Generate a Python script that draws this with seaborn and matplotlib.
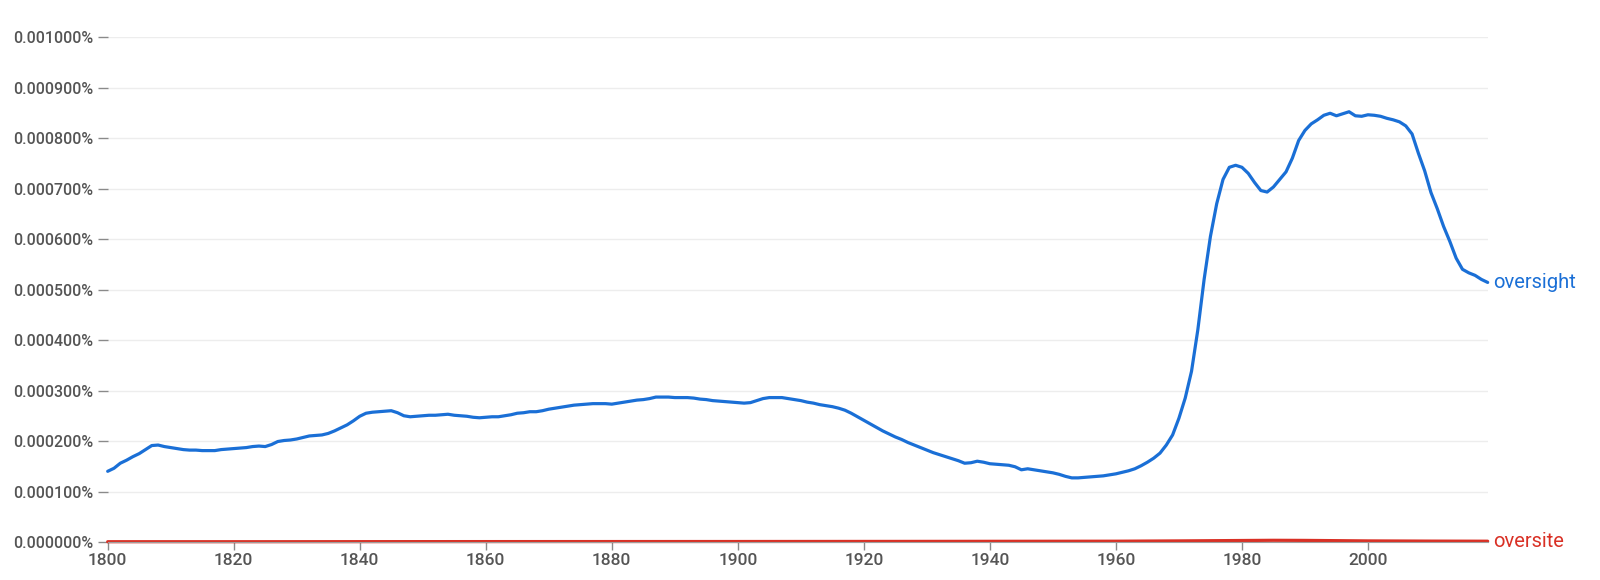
import numpy as np
import pandas as pd
import seaborn as sns
import matplotlib
matplotlib.use("Agg")
import matplotlib.pyplot as plt
from matplotlib.ticker import FuncFormatter, MultipleLocator

# Ngram frequencies (units of 0.000001 %)
oversight_years = list(range(1800, 2020))
oversight_vals = [
    140, 146, 156, 162, 169, 175, 183, 191, 192, 189,   # 1800s
    187, 185, 183, 182, 182, 181, 181, 181, 183, 184,   # 1810s
    185, 186, 187, 189, 190, 189, 193, 199, 201, 202,   # 1820s
    204, 207, 210, 211, 212, 215, 220, 226, 232, 240,   # 1830s
    249, 255, 257, 258, 259, 260, 256, 250, 248, 249,   # 1840s
    250, 251, 251, 252, 253, 251, 250, 249, 247, 246,   # 1850s
    247, 248, 248, 250, 252, 255, 256, 258, 258, 260,   # 1860s
    263, 265, 267, 269, 271, 272, 273, 274, 274, 274,   # 1870s
    273, 275, 277, 279, 281, 282, 284, 287, 287, 287,   # 1880s
    286, 286, 286, 285, 283, 282, 280, 279, 278, 277,   # 1890s
    276, 275, 276, 280, 284, 286, 286, 286, 284, 282,   # 1900s
    280, 277, 275, 272, 270, 268, 265, 261, 255, 248,   # 1910s
    241, 234, 227, 220, 214, 208, 203, 197, 192, 187,   # 1920s
    182, 177, 173, 169, 165, 161, 156, 157, 160, 158,   # 1930s
    155, 154, 153, 152, 149, 143, 145, 143, 141, 139,   # 1940s
    137, 134, 130, 127, 127, 128, 129, 130, 131, 133,   # 1950s
    135, 138, 141, 145, 151, 158, 166, 176, 192, 212,   # 1960s
    245, 285, 338, 420, 520, 605, 670, 718, 742, 746,   # 1970s
    742, 730, 712, 696, 693, 703, 718, 733, 760, 795,   # 1980s
    815, 828, 836, 845, 849, 844, 848, 852, 844, 843,   # 1990s
    846, 845, 843, 839, 836, 832, 824, 808, 770, 735,   # 2000s
    692, 660, 625, 595, 562, 540, 533, 528, 520, 514,   # 2010s
]

oversite_years = [1800, 1825, 1850, 1875, 1900, 1925, 1950, 1960, 1970, 1980, 1985, 1990, 2000, 2010, 2019]
oversite_vals = [0.6, 0.6, 0.8, 0.9, 1.0, 1.2, 1.5, 1.6, 2.2, 3.0, 3.4, 3.2, 2.2, 1.8, 1.6]

words = ["oversight", "oversite"]
colors = ["#1a6fd6", "#d93025"]

df = pd.concat([
    pd.DataFrame({"year": oversight_years, "pct": np.array(oversight_vals) * 1e-6, "word": "oversight"}),
    pd.DataFrame({"year": oversite_years, "pct": np.array(oversite_vals) * 1e-6, "word": "oversite"}),
])

sns.set_style("white")
plt.rcParams["font.family"] = ["Roboto", "DejaVu Sans"]

fig = plt.figure(figsize=(16, 5.8), dpi=100)
ax = fig.add_axes([0.0673, 0.0655, 0.8625, 0.8707])

sns.lineplot(data=df, x="year", y="pct", hue="word", hue_order=words,
             palette=colors, linewidth=2.3, legend=False, ax=ax)
for line in ax.lines:
    line.set_clip_on(False)

ax.set_xlim(1800, 2019)
ax.set_ylim(0, 0.001)
ax.xaxis.set_major_locator(MultipleLocator(20))
ax.yaxis.set_major_locator(MultipleLocator(0.0001))
ax.yaxis.set_major_formatter(FuncFormatter(lambda v, p: f"{v:.6f}%"))
ax.grid(axis="y", color="#ededed", linewidth=1)
ax.set_axisbelow(True)
ax.set_xlabel("")
ax.set_ylabel("")

for s in ["top", "right", "left"]:
    ax.spines[s].set_visible(False)
ax.spines["bottom"].set_color("#9e9e9e")

ax.tick_params(axis="y", length=7, width=1, color="#8a8a8a", pad=3.5,
               labelsize=11.5, labelcolor="#555555", left=True)
ax.tick_params(axis="x", length=6, width=1, color="#8a8a8a", pad=2,
               labelsize=12.5, labelcolor="#555555", bottom=True)
for lab in ax.get_xticklabels() + ax.get_yticklabels():
    lab.set_fontweight("medium")

# series labels at the right end of each line
for w, c in zip(words, colors):
    sub = df[df["word"] == w]
    ax.text(sub["year"].iloc[-1] + 0.8, sub["pct"].iloc[-1], w, color=c,
            fontsize=14.5, va="center", ha="left", clip_on=False)

fig.savefig("out.png", dpi=100)
